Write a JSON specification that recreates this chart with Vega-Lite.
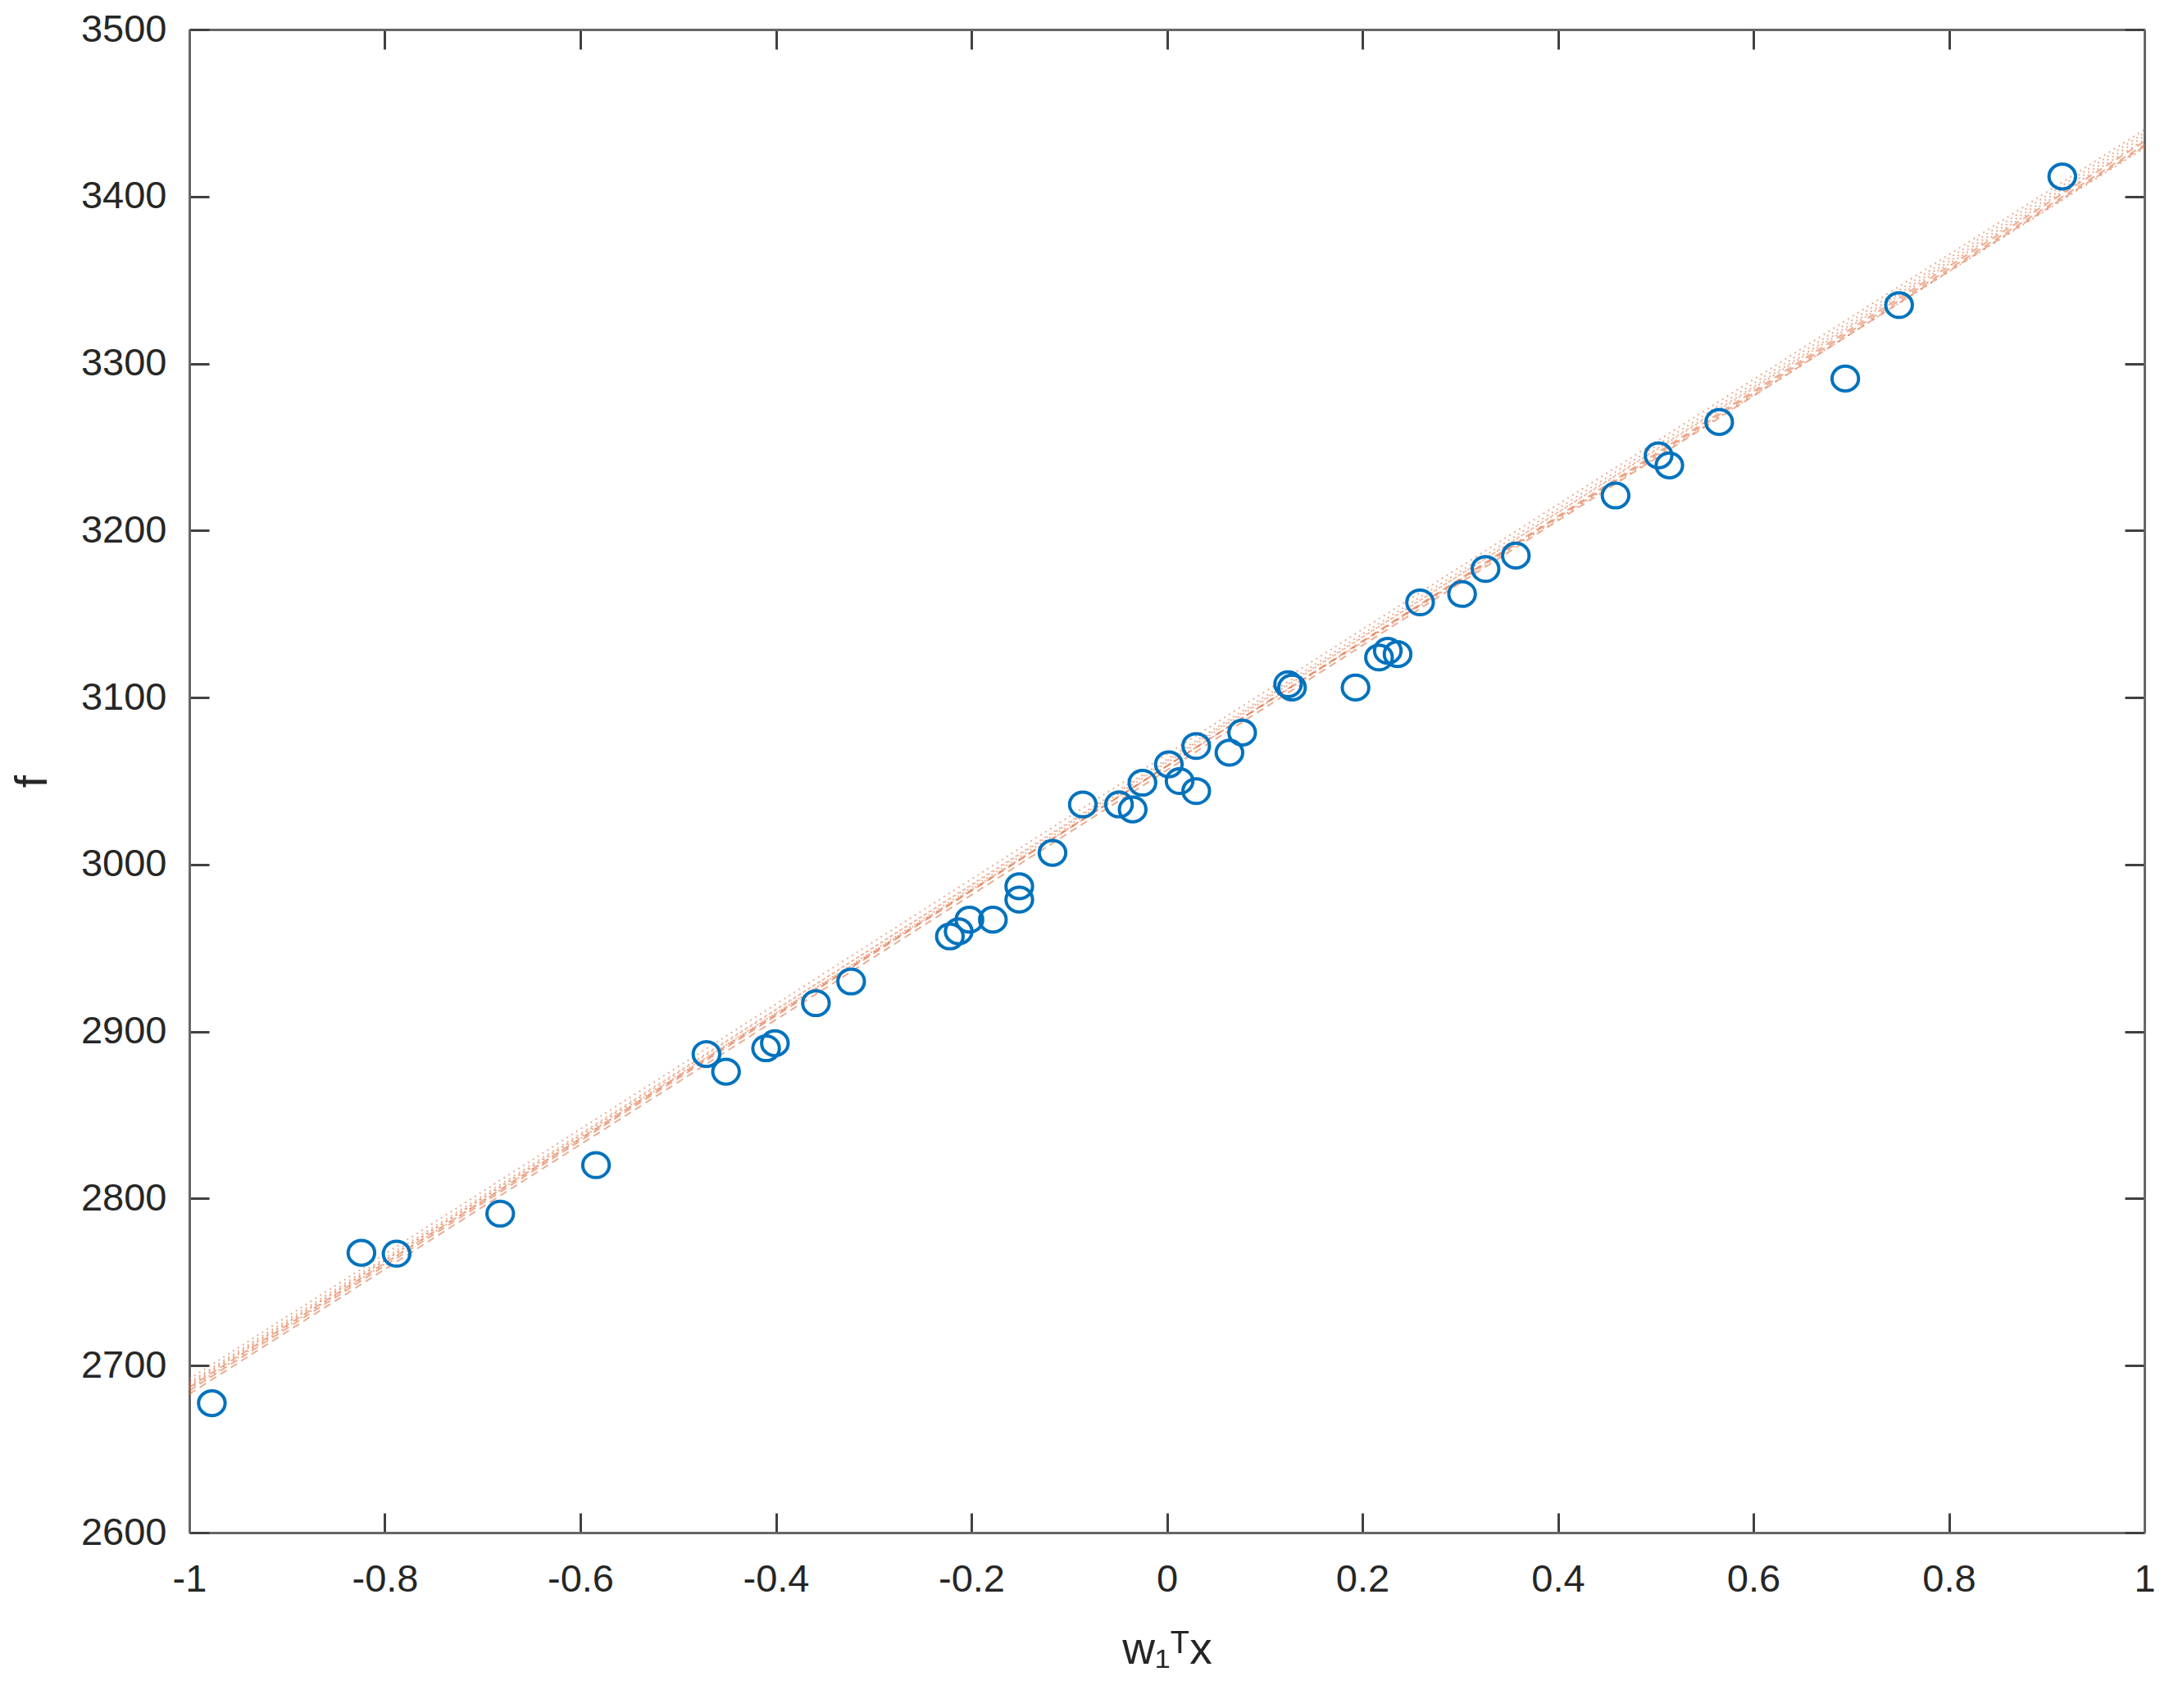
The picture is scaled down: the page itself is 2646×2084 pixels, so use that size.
{
  "$schema": "https://vega.github.io/schema/vega-lite/v6.json",
  "width": 2385,
  "height": 1834,
  "autosize": "none",
  "padding": {"left": 231, "top": 36, "right": 30, "bottom": 214},
  "background": "white",
  "config": {
    "view": {"stroke": null},
    "axis": {
      "grid": false,
      "domainColor": "#666666",
      "domainWidth": 3,
      "tickColor": "#404040",
      "tickWidth": 3,
      "tickSize": -24,
      "labelFont": "Liberation Sans",
      "labelFontSize": 47,
      "labelColor": "#262626",
      "titleFont": "Liberation Sans",
      "titleFontSize": 55,
      "titleColor": "#262626",
      "titleFontWeight": "normal",
      "labelFlush": false,
      "labelOverlap": false
    }
  },
  "datasets": {
    "points": [
      {"x": -0.977, "y": 2677.5}, {"x": -0.824, "y": 2767.5}, {"x": -0.788, "y": 2767},
      {"x": -0.682, "y": 2791}, {"x": -0.584, "y": 2820}, {"x": -0.471, "y": 2886.5},
      {"x": -0.451, "y": 2876}, {"x": -0.410, "y": 2890}, {"x": -0.401, "y": 2893},
      {"x": -0.359, "y": 2917}, {"x": -0.323, "y": 2930}, {"x": -0.222, "y": 2957},
      {"x": -0.213, "y": 2960}, {"x": -0.202, "y": 2967}, {"x": -0.178, "y": 2967},
      {"x": -0.151, "y": 2987}, {"x": -0.151, "y": 2979}, {"x": -0.117, "y": 3007},
      {"x": -0.086, "y": 3036}, {"x": -0.049, "y": 3036}, {"x": -0.035, "y": 3033},
      {"x": -0.025, "y": 3049}, {"x": 0.002, "y": 3060}, {"x": 0.013, "y": 3050},
      {"x": 0.030, "y": 3071}, {"x": 0.030, "y": 3044}, {"x": 0.064, "y": 3067},
      {"x": 0.077, "y": 3079}, {"x": 0.124, "y": 3108}, {"x": 0.128, "y": 3106},
      {"x": 0.193, "y": 3106}, {"x": 0.217, "y": 3124}, {"x": 0.226, "y": 3128},
      {"x": 0.236, "y": 3126}, {"x": 0.259, "y": 3157}, {"x": 0.302, "y": 3162},
      {"x": 0.326, "y": 3177}, {"x": 0.357, "y": 3185}, {"x": 0.459, "y": 3221},
      {"x": 0.503, "y": 3245}, {"x": 0.514, "y": 3239}, {"x": 0.565, "y": 3265},
      {"x": 0.694, "y": 3291}, {"x": 0.749, "y": 3335}, {"x": 0.916, "y": 3412}
    ],
    "fits": [
      {"fit": "d1", "style": "dashed", "x": -1, "y": 2683}, {"fit": "d1", "style": "dashed", "x": 1, "y": 3430},
      {"fit": "d2", "style": "dashed", "x": -1, "y": 2685}, {"fit": "d2", "style": "dashed", "x": 1, "y": 3433},
      {"fit": "d3", "style": "dashed", "x": -1, "y": 2687}, {"fit": "d3", "style": "dashed", "x": 1, "y": 3431},
      {"fit": "t1", "style": "dotted", "x": -1, "y": 2686}, {"fit": "t1", "style": "dotted", "x": 1, "y": 3436},
      {"fit": "t2", "style": "dotted", "x": -1, "y": 2688}, {"fit": "t2", "style": "dotted", "x": 1, "y": 3438},
      {"fit": "t3", "style": "dotted", "x": -1, "y": 2690}, {"fit": "t3", "style": "dotted", "x": 1, "y": 3434},
      {"fit": "t4", "style": "dotted", "x": -1, "y": 2692}, {"fit": "t4", "style": "dotted", "x": 1, "y": 3440},
      {"fit": "t5", "style": "dotted", "x": -1, "y": 2689}, {"fit": "t5", "style": "dotted", "x": 1, "y": 3429}
    ]
  },
  "layer": [
    {
      "data": {"name": "fits"},
      "mark": {"type": "line", "strokeWidth": 2, "opacity": 0.6, "color": "#E07448"},
      "encoding": {
        "x": {"field": "x", "type": "quantitative",
              "scale": {"domain": [-1, 1], "nice": false, "zero": false},
              "axis": {"orient": "top", "labels": false, "title": null,
                       "values": [-1, -0.8, -0.6, -0.4, -0.2, 0, 0.2, 0.4, 0.6, 0.8, 1]}},
        "y": {"field": "y", "type": "quantitative",
              "scale": {"domain": [2600, 3500], "nice": false, "zero": false},
              "axis": {"orient": "right", "labels": false, "title": null,
                       "values": [2600, 2700, 2800, 2900, 3000, 3100, 3200, 3300, 3400, 3500]}},
        "detail": {"field": "fit", "type": "nominal"},
        "strokeDash": {"field": "style", "type": "nominal",
                       "scale": {"domain": ["dashed", "dotted"], "range": [[9, 6], [2, 5]]},
                       "legend": null}
      }
    },
    {
      "data": {"name": "points"},
      "mark": {"type": "point", "filled": false, "shape": "M -1 0 A 1 0.93 0 1 0 1 0 A 1 0.93 0 1 0 -1 0 Z",
               "size": 1050, "strokeWidth": 4, "color": "#0072BD", "opacity": 1},
      "encoding": {
        "x": {"field": "x", "type": "quantitative",
              "axis": {"orient": "bottom", "title": "w₁ᵀx", "labelPadding": 58, "titlePadding": 36,
                       "labelExpr": "'' + datum.value",
                       "values": [-1, -0.8, -0.6, -0.4, -0.2, 0, 0.2, 0.4, 0.6, 0.8, 1]}},
        "y": {"field": "y", "type": "quantitative",
              "axis": {"orient": "left", "title": "f", "labelPadding": 52, "titlePadding": 30,
                       "labelExpr": "'' + datum.value",
                       "values": [2600, 2700, 2800, 2900, 3000, 3100, 3200, 3300, 3400, 3500]}}
      }
    }
  ],
  "resolve": {"axis": {"x": "independent", "y": "independent"}}
}
